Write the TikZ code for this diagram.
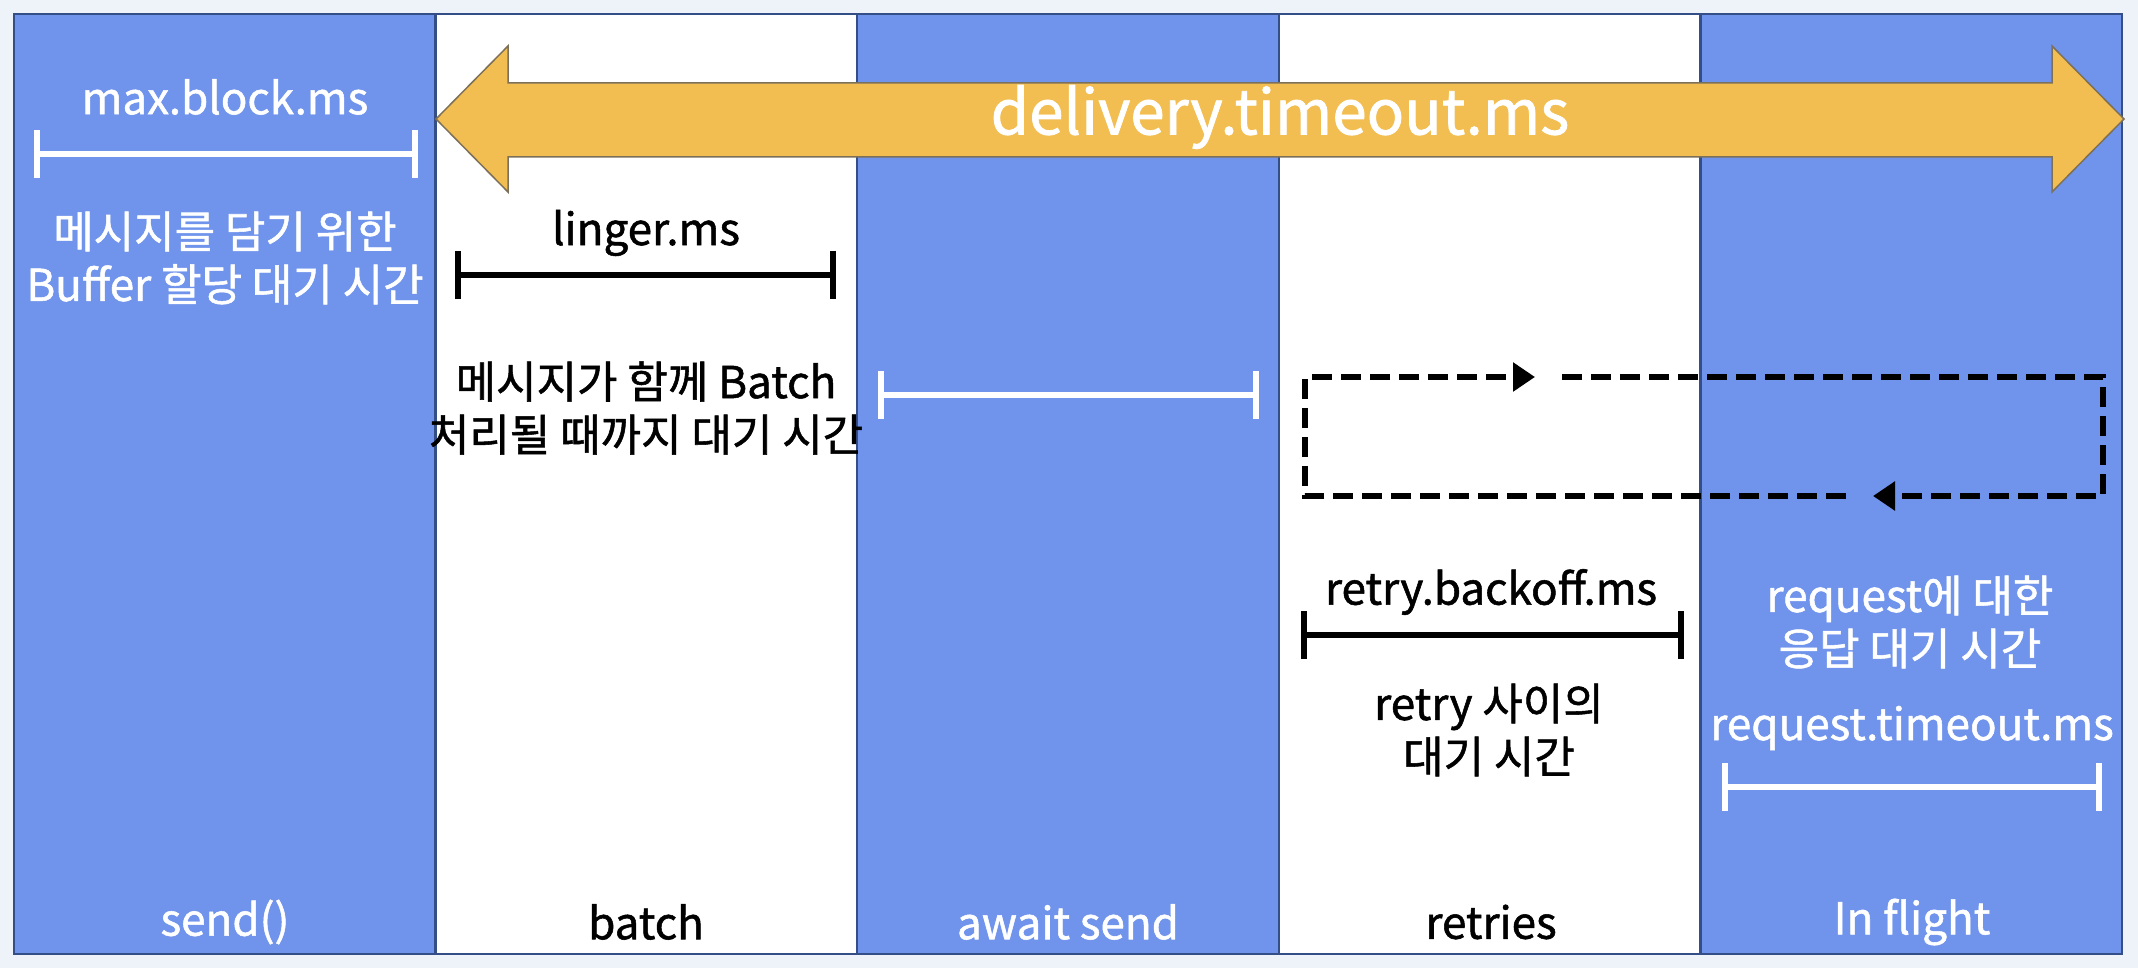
\documentclass[tikz,border=0pt]{standalone}
\usepackage{fontspec}
\setmainfont{Noto Sans CJK KR}[FakeBold=1.2]
\usetikzlibrary{arrows.meta}
\definecolor{cblue}{RGB}{112,148,236}
\definecolor{cedge}{RGB}{52,78,135}
\definecolor{corange}{RGB}{242,190,82}
\definecolor{cbg}{RGB}{238,242,249}
\definecolor{carredge}{RGB}{125,112,88}
\tikzset{
  col/.style={draw=cedge, line width=2.5pt, inner sep=0pt, outer sep=0pt,
    minimum width=421.6pt, minimum height=940pt},
  txt/.style={font=\fontsize{44}{53}\selectfont, align=center, inner sep=0pt},
  wtxt/.style={txt, text=white},
  btxt/.style={txt, text=black},
  span/.style={line width=6pt, {Bar[width=48pt]}-{Bar[width=48pt]}},
  loopdash/.style={line width=6pt, dash pattern=on 20pt off 9pt, line join=miter,
    -{Triangle[length=22pt,width=28pt]}},
}
\begin{document}
\begin{tikzpicture}[x=1pt,y=-1pt]
\useasboundingbox (0,0) rectangle (2138,968);
\fill[cbg] (0,0) rectangle (2138,968);
% columns
\node[col, fill=cblue] (c1) at (224.8,484) {};
\node[col, fill=white] (c2) at (646.4,484) {};
\node[col, fill=cblue] (c3) at (1068,484) {};
\node[col, fill=white] (c4) at (1489.6,484) {};
\node[col, fill=cblue] (c5) at (1911.2,484) {};
% big double arrow
\filldraw[fill=corange, draw=carredge, line width=1.5pt]
  (436,119) -- (508,46) -- (508,83) -- (2052,83) -- (2052,46) -- (2124,119)
  -- (2052,192) -- (2052,157) -- (508,157) -- (508,192) -- cycle;
\node[wtxt, font=\fontsize{62}{70}\selectfont] (dto) at (1280,117) {delivery.timeout.ms};
% send()
\node[wtxt] (mbl) at (225,97) {max.block.ms};
\coordinate (mb1) at (34,154);
\coordinate (mb2) at (418,154);
\draw[span, white] (mb1) -- (mb2);
\node[wtxt] (sendtxt) at (225,258) {메시지를 담기 위한\\Buffer 할당 대기 시간};
\node[wtxt] (sendlbl) at (225,922) {send()};
% batch
\node[btxt] (lml) at (646,233) {linger.ms};
\coordinate (lm1) at (455,275);
\coordinate (lm2) at (836,275);
\draw[span, black] (lm1) -- (lm2);
\node[btxt] (batchtxt) at (646,408) {메시지가 함께 Batch\\처리될 때까지 대기 시간};
\node[btxt] (batchlbl) at (646,922) {batch};
% await send
\coordinate (as1) at (878,395);
\coordinate (as2) at (1259,395);
\draw[span, white] (as1) -- (as2);
\node[wtxt] (awaitlbl) at (1068,922) {await send};
% retry loop
\coordinate (la) at (1562,377);
\coordinate (lb) at (2103,377);
\coordinate (lc) at (2103,496);
\coordinate (ld) at (1873,496);
\coordinate (le) at (1846,496);
\coordinate (lf) at (1305,496);
\coordinate (lg) at (1305,377);
\coordinate (lh) at (1535,377);
\draw[loopdash] (la) -- (lb) -- (lc) -- (ld);
\draw[loopdash] (le) -- (lf) -- (lg) -- (lh);
% retries
\node[btxt] (rbl) at (1491,592) {retry.backoff.ms};
\coordinate (rb1) at (1301,635);
\coordinate (rb2) at (1684,635);
\draw[span, black] (rb1) -- (rb2);
\node[btxt] (retrytxt) at (1489,730) {retry 사이의\\대기 시간};
\node[btxt] (retrylbl) at (1491,922) {retries};
% in flight
\node[wtxt] (reqtxt) at (1910,622) {request에 대한\\응답 대기 시간};
\node[wtxt] (rtl) at (1912,728) {request.timeout.ms};
\coordinate (rt1) at (1722,787);
\coordinate (rt2) at (2102,787);
\draw[span, white] (rt1) -- (rt2);
\node[wtxt] (flightlbl) at (1912,922) {In flight};
\end{tikzpicture}
\end{document}
